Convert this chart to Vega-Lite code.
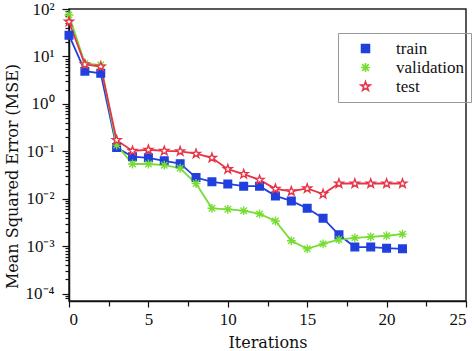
{
  "$schema": "https://vega.github.io/schema/vega-lite/v6.json",
  "width": 397,
  "height": 292,
  "autosize": {"type": "none"},
  "padding": {"left": 69, "top": 9, "right": 8, "bottom": 50},
  "background": "white",
  "config": {
    "view": {"stroke": "#222", "strokeWidth": 1.5},
    "axis": {"grid": false, "domainColor": "#111", "domainWidth": 1.5, "tickColor": "#111", "tickWidth": 1.2, "labelColor": "#111", "titleColor": "#111", "labelFont": "Liberation Serif", "labelFontSize": 17, "titleFont": "DejaVu Serif", "titleFontSize": 16, "titleFontWeight": "normal"},
    "legend": {"labelFont": "Liberation Serif", "labelFontSize": 17, "labelColor": "#111"}
  },
  "data": {"values": [
    {"iter": 0, "series": "train", "mse": 28}, {"iter": 1, "series": "train", "mse": 4.9}, {"iter": 2, "series": "train", "mse": 4.4}, {"iter": 3, "series": "train", "mse": 0.12}, {"iter": 4, "series": "train", "mse": 0.077}, {"iter": 5, "series": "train", "mse": 0.073}, {"iter": 6, "series": "train", "mse": 0.063}, {"iter": 7, "series": "train", "mse": 0.055}, {"iter": 8, "series": "train", "mse": 0.028}, {"iter": 9, "series": "train", "mse": 0.0228}, {"iter": 10, "series": "train", "mse": 0.0206}, {"iter": 11, "series": "train", "mse": 0.0184}, {"iter": 12, "series": "train", "mse": 0.0184}, {"iter": 13, "series": "train", "mse": 0.0115}, {"iter": 14, "series": "train", "mse": 0.009}, {"iter": 15, "series": "train", "mse": 0.0063}, {"iter": 16, "series": "train", "mse": 0.0039}, {"iter": 17, "series": "train", "mse": 0.00174}, {"iter": 18, "series": "train", "mse": 0.00096}, {"iter": 19, "series": "train", "mse": 0.00096}, {"iter": 20, "series": "train", "mse": 0.00091}, {"iter": 21, "series": "train", "mse": 0.00088},
    {"iter": 0, "series": "validation", "mse": 75}, {"iter": 1, "series": "validation", "mse": 7.1}, {"iter": 2, "series": "validation", "mse": 6.6}, {"iter": 3, "series": "validation", "mse": 0.135}, {"iter": 4, "series": "validation", "mse": 0.054}, {"iter": 5, "series": "validation", "mse": 0.054}, {"iter": 6, "series": "validation", "mse": 0.051}, {"iter": 7, "series": "validation", "mse": 0.044}, {"iter": 8, "series": "validation", "mse": 0.021}, {"iter": 9, "series": "validation", "mse": 0.0063}, {"iter": 10, "series": "validation", "mse": 0.006}, {"iter": 11, "series": "validation", "mse": 0.0056}, {"iter": 12, "series": "validation", "mse": 0.0048}, {"iter": 13, "series": "validation", "mse": 0.0034}, {"iter": 14, "series": "validation", "mse": 0.0013}, {"iter": 15, "series": "validation", "mse": 0.00088}, {"iter": 16, "series": "validation", "mse": 0.00112}, {"iter": 17, "series": "validation", "mse": 0.00138}, {"iter": 18, "series": "validation", "mse": 0.0015}, {"iter": 19, "series": "validation", "mse": 0.00158}, {"iter": 20, "series": "validation", "mse": 0.00166}, {"iter": 21, "series": "validation", "mse": 0.0018},
    {"iter": 0, "series": "test", "mse": 54}, {"iter": 1, "series": "test", "mse": 6.8}, {"iter": 2, "series": "test", "mse": 6.1}, {"iter": 3, "series": "test", "mse": 0.172}, {"iter": 4, "series": "test", "mse": 0.102}, {"iter": 5, "series": "test", "mse": 0.108}, {"iter": 6, "series": "test", "mse": 0.102}, {"iter": 7, "series": "test", "mse": 0.1}, {"iter": 8, "series": "test", "mse": 0.089}, {"iter": 9, "series": "test", "mse": 0.073}, {"iter": 10, "series": "test", "mse": 0.042}, {"iter": 11, "series": "test", "mse": 0.033}, {"iter": 12, "series": "test", "mse": 0.025}, {"iter": 13, "series": "test", "mse": 0.0162}, {"iter": 14, "series": "test", "mse": 0.0144}, {"iter": 15, "series": "test", "mse": 0.0165}, {"iter": 16, "series": "test", "mse": 0.0126}, {"iter": 17, "series": "test", "mse": 0.021}, {"iter": 18, "series": "test", "mse": 0.021}, {"iter": 19, "series": "test", "mse": 0.021}, {"iter": 20, "series": "test", "mse": 0.021}, {"iter": 21, "series": "test", "mse": 0.021}
  ]},
  "encoding": {
    "x": {"field": "iter", "type": "quantitative", "scale": {"domain": [0, 25], "nice": false},
          "axis": {"values": [0, 2.5, 5, 7.5, 10, 12.5, 15, 17.5, 20, 22.5, 25], "labelExpr": "datum.value % 5 === 0 ? datum.label : ''",
                   "tickSize": {"condition": {"test": "datum.value % 5 === 0", "value": 6}, "value": 5},
                   "title": "Iterations", "labelPadding": 4, "titleY": 46, "titleBaseline": "alphabetic"}},
    "y": {"field": "mse", "type": "quantitative", "scale": {"type": "log", "domain": [0.00007, 100], "nice": false},
          "axis": {"values": [0.00008, 0.00009, 0.0001, 0.0002, 0.0003, 0.0004, 0.0005, 0.0006, 0.0007, 0.0008, 0.0009, 0.001, 0.002, 0.003, 0.004, 0.005, 0.006, 0.007, 0.008, 0.009, 0.01, 0.02, 0.03, 0.04, 0.05, 0.06, 0.07, 0.08, 0.09, 0.1, 0.2, 0.3, 0.4, 0.5, 0.6, 0.7, 0.8, 0.9, 1, 2, 3, 4, 5, 6, 7, 8, 9, 10, 20, 30, 40, 50, 60, 70, 80, 90, 100],
                   "tickSize": {"condition": {"test": "abs(log(datum.value)/LN10 - round(log(datum.value)/LN10)) < 0.001", "value": 7}, "value": 4},
                   "labelBaseline": "middle", "labelPadding": 8,
                   "labelExpr": "abs(log(datum.value)/LN10 - round(log(datum.value)/LN10)) > 0.001 ? '' : datum.value >= 99 ? '10²' : datum.value >= 9 ? '10¹' : datum.value >= 0.9 ? '10⁰' : datum.value >= 0.09 ? '10⁻¹' : datum.value >= 0.009 ? '10⁻²' : datum.value >= 0.0009 ? '10⁻³' : '10⁻⁴'",
                   "title": "Mean Squared Error (MSE)", "titleX": -57, "titleY": 167, "titleBaseline": "middle", "titleAngle": -90}}
  },
  "layer": [
    {
      "mark": {"type": "line", "strokeWidth": 1.8},
      "encoding": {
        "color": {"field": "series", "type": "nominal", "scale": {"domain": ["train", "validation", "test"], "range": ["#2040dd", "#77dd33", "#e63347"]},
                  "legend": {"orient": "none", "legendX": 269, "legendY": 24, "title": null, "symbolStrokeWidth": 1.6, "symbolSize": 70, "symbolOffset": 12, "labelOffset": 22,
                             "labelFont": "Liberation Serif", "labelFontSize": 17, "labelColor": "#111", "strokeColor": "#999", "padding": 7, "rowPadding": 1}}
      }
    },
    {
      "mark": {"type": "point", "opacity": 1, "strokeWidth": 1.4, "filled": false, "size": 64},
      "encoding": {
        "color": {"field": "series", "type": "nominal", "scale": {"domain": ["train", "validation", "test"], "range": ["#2040dd", "#77dd33", "#e63347"]}},
        "fill": {"field": "series", "type": "nominal", "scale": {"domain": ["train", "validation", "test"], "range": ["#2040dd", "#77dd33", "#ffffff"]}},
        "shape": {"field": "series", "type": "nominal", "scale": {"domain": ["train", "validation", "test"], "range": ["M-0.95,-0.95L0.95,-0.95L0.95,0.95L-0.95,0.95Z", "M-1.1,0L1.1,0M0,-1.1L0,1.1M-0.8,-0.8L0.8,0.8M-0.8,0.8L0.8,-0.8", "M0,-1.15L0.27,-0.373L1.094,-0.355L0.437,0.143L0.676,0.93L0,0.46L-0.676,0.93L-0.437,0.143L-1.094,-0.355L-0.27,-0.373Z"]}}
      }
    }
  ]
}
